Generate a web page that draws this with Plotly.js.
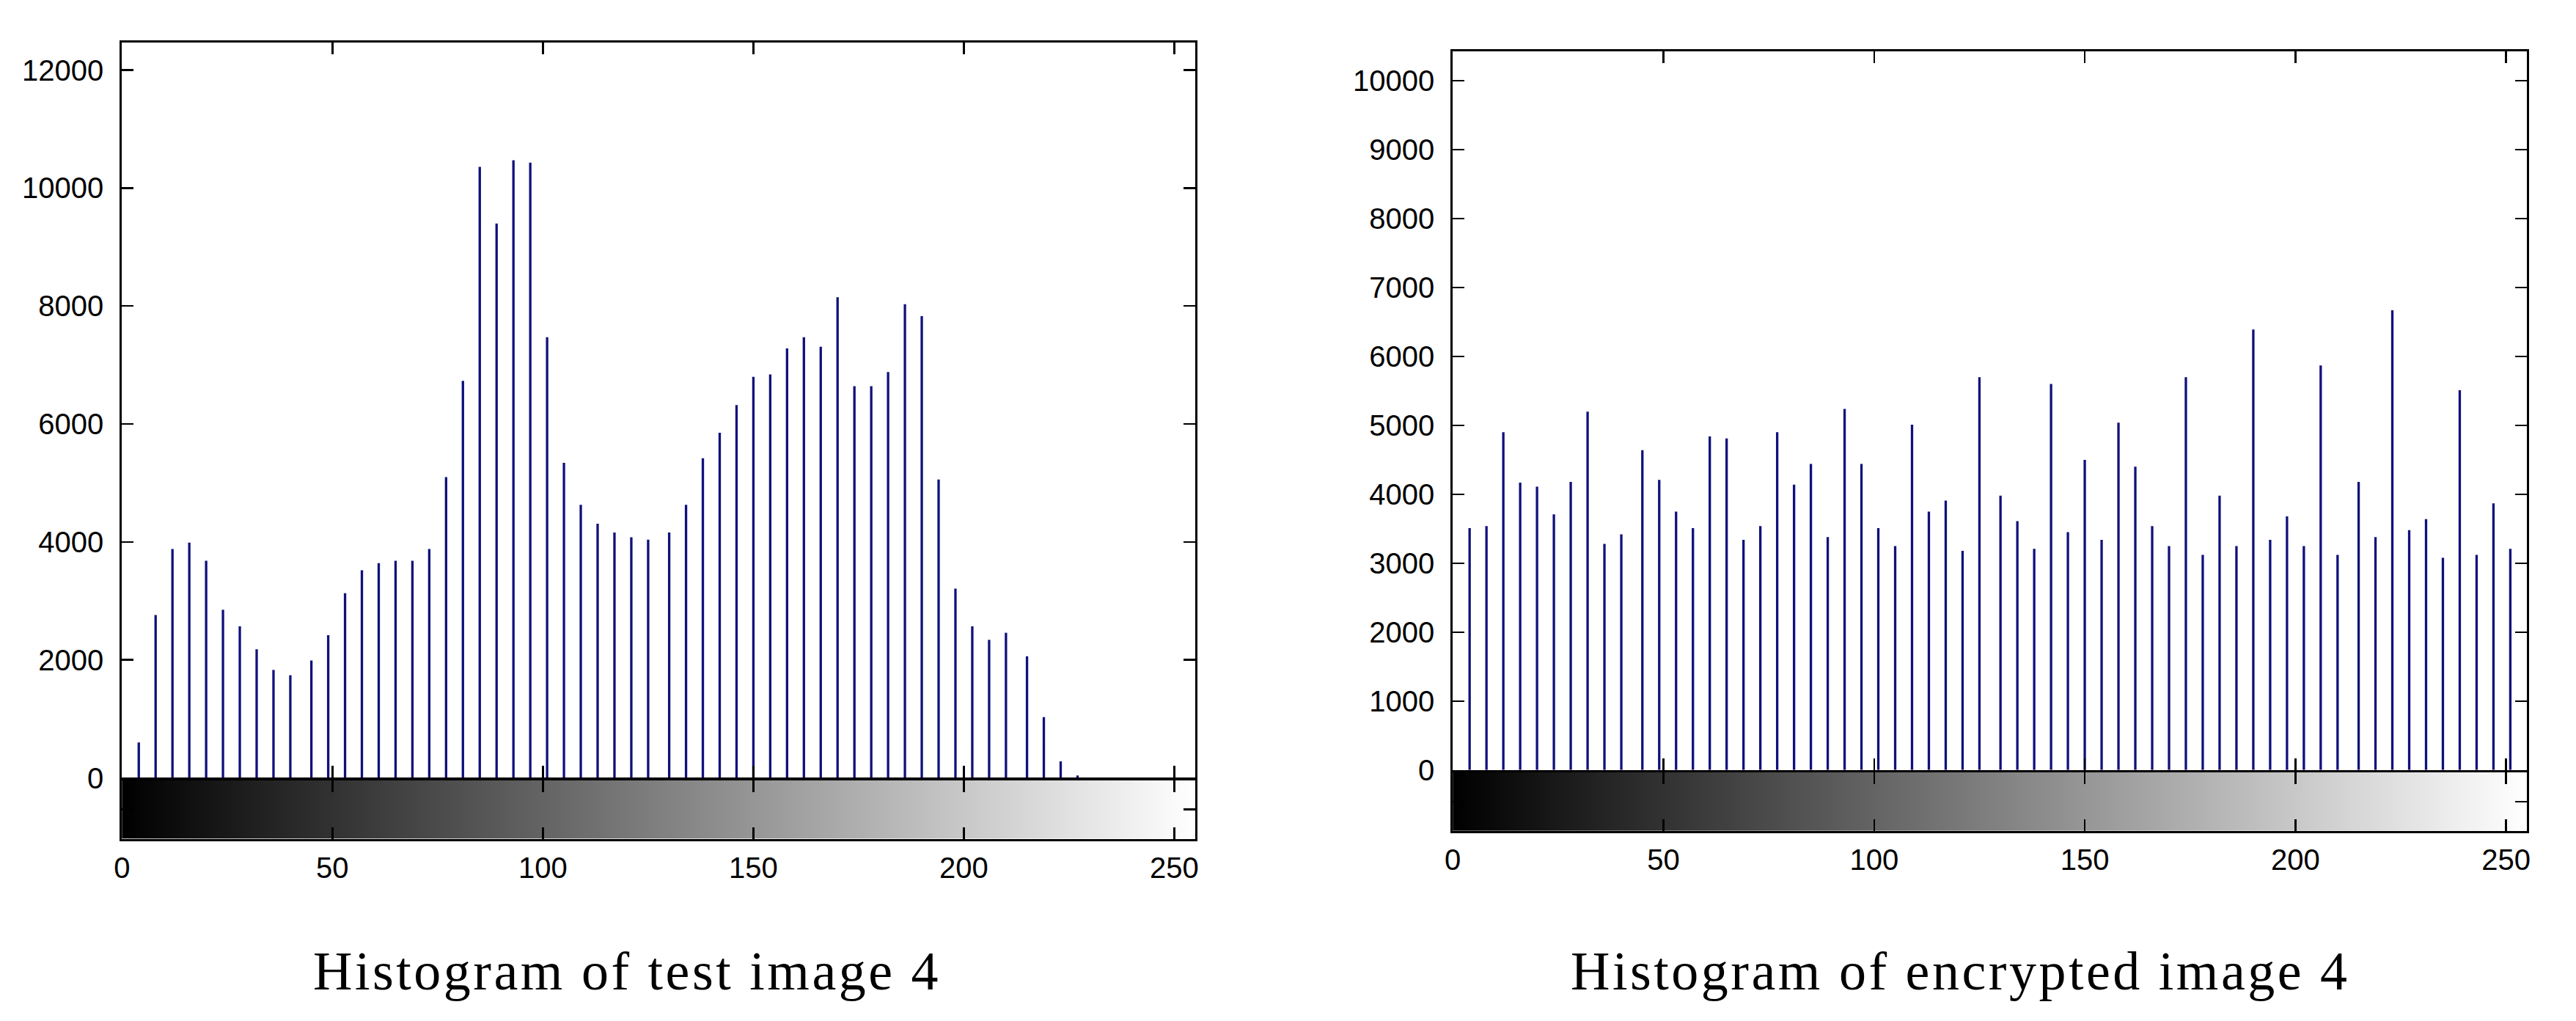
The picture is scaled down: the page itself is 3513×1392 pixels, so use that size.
<!DOCTYPE html>
<html>
<head>
<meta charset="utf-8">
<script src="https://cdn.plot.ly/plotly-3.0.1.min.js"></script>
<style>
  html, body { margin: 0; padding: 0; background: #ffffff; }
  #chart { width: 3513px; height: 1392px; }
  .annotation-text { letter-spacing: 3.5px; }
</style>
</head>
<body>
<div id="chart"></div>
<script>
// ---- data ----
// gray levels at which the stems stand (same for both histograms)
const grayLevels = [4, 8, 12, 16, 20, 24, 28, 32, 36, 40, 45, 49, 53, 57, 61, 65, 69, 73, 77, 81,
  85, 89, 93, 97, 101, 105, 109, 113, 117, 121, 125, 130, 134, 138, 142, 146, 150, 154, 158, 162,
  166, 170, 174, 178, 182, 186, 190, 194, 198, 202, 206, 210, 215, 219, 223, 227, 231, 235, 239, 243,
  247, 251];

// Histogram of test image 4 (pixel counts)
const testCounts = [600, 2760, 3880, 3990, 3680, 2850, 2570, 2180, 1830, 1740, 1990, 2420, 3130, 3520,
  3640, 3680, 3680, 3880, 5100, 6730, 10360, 9400, 10470, 10430, 7470, 5340, 4630, 4310, 4160, 4080,
  4040, 4160, 4630, 5420, 5850, 6320, 6800, 6840, 7280, 7470, 7310, 8150, 6640, 6640, 6880, 8030,
  7830, 5060, 3210, 2570, 2340, 2460, 2060, 1030, 280, 40, 0, 0, 0, 0, 0, 0];

// Histogram of encrypted image 4 (pixel counts)
const encryptedCounts = [3510, 3540, 4900, 4170, 4110, 3710, 4180, 5200, 3280, 3420, 4640, 4210, 3750,
  3510, 4840, 4810, 3340, 3540, 4900, 4140, 4440, 3380, 5240, 4440, 3510, 3250, 5010, 3750, 3910,
  3180, 5700, 3980, 3610, 3210, 5600, 3450, 4500, 3340, 5040, 4400, 3540, 3250, 5700, 3120, 3980,
  3250, 6390, 3340, 3680, 3250, 5870, 3120, 4180, 3380, 6670, 3480, 3640, 3080, 5510, 3120, 3870, 3210];

// tick labels
const xTicks = [0, 50, 100, 150, 200, 250];
const testYTicks = [0, 2000, 4000, 6000, 8000, 10000, 12000];
const encYTicks = [0, 1000, 2000, 3000, 4000, 5000, 6000, 7000, 8000, 9000, 10000];

const captions = ["Histogram of test image 4", "Histogram of encrypted image 4"];

// ---- build traces ----
const STEM_COLOR = '#10107c';

function stemTrace(levels, counts, xa, ya) {
  const xs = [], ys = [];
  for (let i = 0; i < levels.length; i++) {
    if (counts[i] > 0) {
      xs.push(levels[i], levels[i], null);
      ys.push(0, counts[i], null);
    }
  }
  return {
    type: 'scatter', mode: 'lines', x: xs, y: ys, xaxis: xa, yaxis: ya,
    line: { color: STEM_COLOR, width: 3.3 }, hoverinfo: 'skip', showlegend: false
  };
}

// gray ramp for the colour bar under each histogram (0 = black ... 255 = white)
const rampLevels = [];
for (let g = 0; g <= 255; g++) rampLevels.push(g);

function rampTrace(xa, ya) {
  return {
    type: 'heatmap', x: rampLevels, y: [0.5], z: [rampLevels], xaxis: xa, yaxis: ya,
    zmin: 0, zmax: 255, showscale: false, hoverinfo: 'skip',
    colorscale: [[0, 'rgb(0,0,0)'], [1, 'rgb(255,255,255)']]
  };
}

const data = [
  stemTrace(grayLevels, testCounts, 'x', 'y'),
  rampTrace('x2', 'y2'),
  stemTrace(grayLevels, encryptedCounts, 'x3', 'y3'),
  rampTrace('x4', 'y4')
];

// ---- layout ----
const tickFont = { family: 'Liberation Sans, Arial, sans-serif', size: 40, color: '#000' };
const common = {
  showline: true, linecolor: '#000', linewidth: 3, mirror: 'ticks',
  ticks: 'inside', ticklen: 16, tickwidth: 2.5, tickcolor: '#000',
  showgrid: false, zeroline: false, tickfont: tickFont, fixedrange: true
};

const L = { x: [0.047338, 0.464048], stem: [0.238147, 0.958477], bar: [0.178520, 0.235991] };
const R = { x: [0.563962, 0.981042], stem: [0.245833, 0.949856], bar: [0.186279, 0.243678] };

const layout = {
  width: 3513, height: 1392,
  margin: { l: 0, r: 0, t: 0, b: 0, pad: 0 },
  paper_bgcolor: '#ffffff', plot_bgcolor: '#ffffff',
  showlegend: false,
  xaxis: Object.assign({}, common, { domain: L.x, anchor: 'y', range: [0, 255],
    tickmode: 'array', tickvals: xTicks, showticklabels: false }),
  yaxis: Object.assign({}, common, { domain: L.stem, anchor: 'x', range: [0, 12470],
    tickmode: 'array', tickvals: testYTicks, ticktext: testYTicks.map(String), ticklabelstandoff: 14 }),
  xaxis2: Object.assign({}, common, { domain: L.x, anchor: 'y2', range: [0, 255],
    tickmode: 'array', tickvals: xTicks, ticktext: xTicks.map(String), ticklabelstandoff: 2 }),
  yaxis2: Object.assign({}, common, { domain: L.bar, anchor: 'x2', range: [0, 1],
    tickmode: 'array', tickvals: [0.5], showticklabels: false }),
  xaxis3: Object.assign({}, common, { domain: R.x, anchor: 'y3', range: [0, 255],
    tickmode: 'array', tickvals: xTicks, showticklabels: false }),
  yaxis3: Object.assign({}, common, { domain: R.stem, anchor: 'x3', range: [0, 10429],
    tickmode: 'array', tickvals: encYTicks, ticktext: encYTicks.map(String), ticklabelstandoff: 14 }),
  xaxis4: Object.assign({}, common, { domain: R.x, anchor: 'y4', range: [0, 255],
    tickmode: 'array', tickvals: xTicks, ticktext: xTicks.map(String), ticklabelstandoff: 2 }),
  yaxis4: Object.assign({}, common, { domain: R.bar, anchor: 'x4', range: [0, 1],
    tickmode: 'array', tickvals: [0.5], showticklabels: false }),
  annotations: [
    { text: captions[0], xref: 'paper', yref: 'paper', x: 0.2434, y: 0.0488,
      xanchor: 'center', yanchor: 'middle', showarrow: false,
      font: { family: 'Liberation Serif, Times New Roman, serif', size: 74, color: '#000' } },
    { text: captions[1], xref: 'paper', yref: 'paper', x: 0.7609, y: 0.0488,
      xanchor: 'center', yanchor: 'middle', showarrow: false,
      font: { family: 'Liberation Serif, Times New Roman, serif', size: 74, color: '#000' } }
  ]
};

Plotly.newPlot('chart', data, layout, { staticPlot: true, displayModeBar: false });
</script>
</body>
</html>
